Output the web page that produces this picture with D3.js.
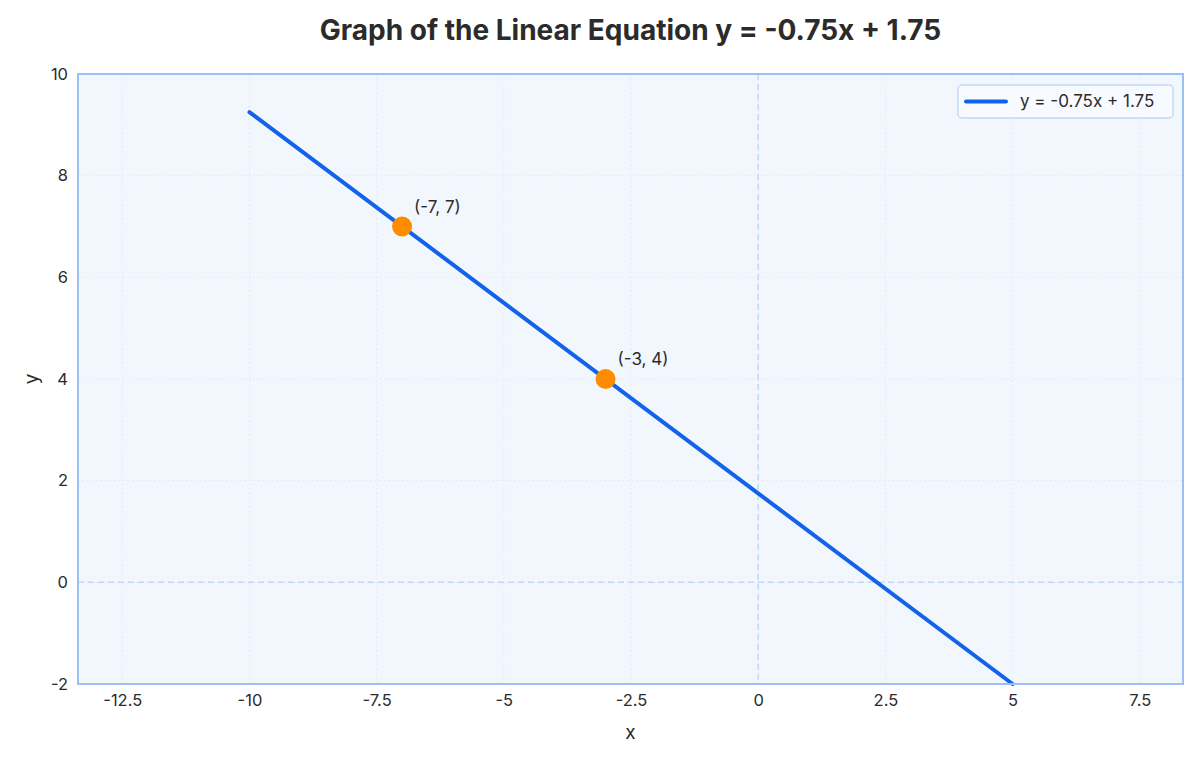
<!DOCTYPE html>
<html lang="en">
<head>
    <meta charset="UTF-8">
    <title>Graph of the Linear Equation</title>
    <script src="https://d3js.org/d3.v7.min.js"></script>
    <style>
        body { margin: 0; background: #fff; }
        text { font-family: Inter, "Noto Sans", sans-serif; fill: #2b2b2b; }
        .grid line { stroke: #dfe7f4; stroke-width: 1; stroke-dasharray: 1.5 3; }
        .tick-label { font-size: 16.5px; }
    </style>
</head>
<body>
    <svg width="1200" height="761"></svg>

    <script>
        // line y = -0.75x + 1.75, drawn between these x values
        const slope = -0.75;
        const intercept = 1.75;
        const lineX = [-10, 5];
        const pointX = [-7, -3];
        const pointY = [7, 4];
        const pointLabels = ['(-7, 7)', '(-3, 4)'];
        const xTicks = [-12.5, -10, -7.5, -5, -2.5, 0, 2.5, 5, 7.5];
        const yTicks = [-2, 0, 2, 4, 6, 8, 10];
        const xDomain = [-13.37, 8.35];
        const yDomain = [-2, 10];

        const margin = { left: 78, right: 17, top: 74, bottom: 77 };
        const width = 1200, height = 761;

        const svg = d3.select('svg');

        const x = d3.scaleLinear().domain(xDomain).range([margin.left, width - margin.right]);
        const y = d3.scaleLinear().domain(yDomain).range([height - margin.bottom, margin.top]);

        // plot background
        svg.append('rect')
            .attr('x', x.range()[0]).attr('y', y.range()[1])
            .attr('width', x.range()[1] - x.range()[0])
            .attr('height', y.range()[0] - y.range()[1])
            .attr('fill', '#f2f7fe');

        // grid
        const grid = svg.append('g').attr('class', 'grid');
        grid.selectAll('.gx')
            .data(xTicks)
            .enter().append('line')
            .attr('x1', d => x(d)).attr('x2', d => x(d))
            .attr('y1', y.range()[1]).attr('y2', y.range()[0]);
        grid.selectAll('.gy')
            .data(yTicks)
            .enter().append('line')
            .attr('y1', d => y(d)).attr('y2', d => y(d))
            .attr('x1', x.range()[0]).attr('x2', x.range()[1]);

        // zero axes, dashed
        svg.append('line')
            .attr('x1', x(0)).attr('x2', x(0))
            .attr('y1', y.range()[1]).attr('y2', y.range()[0])
            .attr('stroke', '#c3d8f8').attr('stroke-width', 1.5)
            .attr('stroke-dasharray', '6 4');
        svg.append('line')
            .attr('y1', y(0)).attr('y2', y(0))
            .attr('x1', x.range()[0]).attr('x2', x.range()[1])
            .attr('stroke', '#c3d8f8').attr('stroke-width', 1.5)
            .attr('stroke-dasharray', '6 4');

        // the line
        const lineData = lineX.map(v => [v, slope * v + intercept]);
        svg.append('path')
            .datum(lineData)
            .attr('fill', 'none')
            .attr('stroke', '#1363e8')
            .attr('stroke-width', 4)
            .attr('stroke-linecap', 'round')
            .attr('d', d3.line().x(d => x(d[0])).y(d => y(d[1])));

        // points
        svg.selectAll('.pt')
            .data(pointX)
            .enter().append('circle')
            .attr('cx', d => x(d))
            .attr('cy', (d, i) => y(pointY[i]))
            .attr('r', 10)
            .attr('fill', '#ff8c00');

        svg.selectAll('.pt-label')
            .data(pointX)
            .enter().append('text')
            .attr('x', d => x(d) + 12)
            .attr('y', (d, i) => y(pointY[i]) - 14)
            .attr('font-size', 17)
            .text((d, i) => pointLabels[i]);

        // border
        svg.append('rect')
            .attr('x', x.range()[0]).attr('y', y.range()[1])
            .attr('width', x.range()[1] - x.range()[0])
            .attr('height', y.range()[0] - y.range()[1])
            .attr('fill', 'none')
            .attr('stroke', '#9cc0f5')
            .attr('stroke-width', 2);

        // axes (no tick marks), plain hyphen minus like the reference
        const xAxis = svg.append('g')
            .attr('transform', `translate(0,${y.range()[0]})`)
            .call(d3.axisBottom(x).tickValues(xTicks).tickSize(0).tickPadding(10)
                .tickFormat(d => String(d)));
        xAxis.select('.domain').remove();
        xAxis.selectAll('text').attr('class', 'tick-label').attr('fill', '#2b2b2b');

        const yAxis = svg.append('g')
            .attr('transform', `translate(${x.range()[0]},0)`)
            .call(d3.axisLeft(y).tickValues(yTicks).tickSize(0).tickPadding(10)
                .tickFormat(d => String(d)));
        yAxis.select('.domain').remove();
        yAxis.selectAll('text').attr('class', 'tick-label').attr('fill', '#2b2b2b');

        // axis labels
        svg.append('text')
            .attr('x', (x.range()[0] + x.range()[1]) / 2)
            .attr('y', 739)
            .attr('text-anchor', 'middle')
            .attr('font-size', 19)
            .text('x');
        svg.append('text')
            .attr('transform', `translate(38,${(y.range()[0] + y.range()[1]) / 2}) rotate(-90)`)
            .attr('text-anchor', 'middle')
            .attr('font-size', 19)
            .text('y');

        // title
        svg.append('text')
            .attr('x', (x.range()[0] + x.range()[1]) / 2)
            .attr('y', 40)
            .attr('text-anchor', 'middle')
            .attr('font-size', 28)
            .attr('font-weight', 'bold')
            .text('Graph of the Linear Equation y = -0.75x + 1.75');

        // legend
        const legend = svg.append('g').attr('transform', 'translate(958,85)');
        legend.append('rect')
            .attr('width', 215).attr('height', 33)
            .attr('rx', 4)
            .attr('fill', '#f7faff')
            .attr('stroke', '#c5d9f7')
            .attr('stroke-width', 1.5);
        legend.append('line')
            .attr('x1', 8).attr('x2', 48)
            .attr('y1', 16.5).attr('y2', 16.5)
            .attr('stroke', '#1363e8')
            .attr('stroke-width', 4)
            .attr('stroke-linecap', 'round');
        legend.append('text')
            .attr('x', 62).attr('y', 22)
            .attr('font-size', 17)
            .text('y = -0.75x + 1.75');
    </script>
</body>
</html>
